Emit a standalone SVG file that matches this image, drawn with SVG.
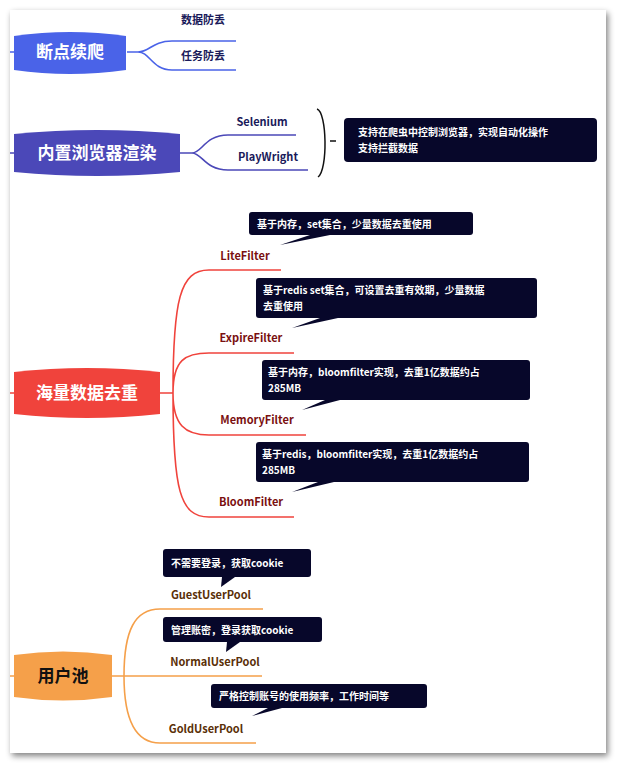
<svg xmlns="http://www.w3.org/2000/svg" width="618" height="765" viewBox="0 0 618 765">
<defs>
<filter id="sh" x="-5%" y="-5%" width="110%" height="110%"><feGaussianBlur in="SourceAlpha" stdDeviation="3"/><feOffset dx="2" dy="3"/><feComponentTransfer><feFuncA type="linear" slope="0.5"/></feComponentTransfer><feMerge><feMergeNode/><feMergeNode in="SourceGraphic"/></feMerge></filter>
</defs>
<style>
text{font-family:"Noto Sans CJK SC","Noto Sans",sans-serif;font-weight:bold}
.lbl{font-size:11px;text-anchor:middle}
.main{font-size:17px;fill:#fff;text-anchor:middle}
.cb{fill:#07072a}
.ct{font-size:10px;fill:#fff}
.b{fill:none;stroke-width:1.6}
</style>
<rect x="0" y="0" width="618" height="765" fill="#fff"/>
<rect x="10" y="10" width="596" height="743" fill="#fff" filter="url(#sh)"/>
<g id="connectors">
<path class="b" stroke="#4a63e8" d="M10 52H14M127 52H138C150 52 152 41 172 41H236M138 52C150 52 152 70 172 70H236"/>
<path class="b" stroke="#4b48b8" d="M10 153H14M180 153H192C202 153 205 135 228 135H296M192 153C202 153 205 170 228 170H308"/>
<path fill="none" stroke="#111" stroke-width="1.5" d="M317 109C327 112 328 170 318 177M330 141H336"/>
<path class="b" stroke="#f0433c" d="M10 393H14M160 393H173M173 393C173 300 180 270 209 270H281M173 393C173 360 185 353 209 353H294M173 393C173 425 185 435 209 435H306M173 393C173 490 180 517 209 517H294"/>
<path class="b" stroke="#f5a04a" d="M10 676H14M112 676H262M124 676C124 630 135 609 160 609H263M124 676C124 720 135 743 160 743H256"/>
</g>
<g id="n1"><path d="M14 36Q70 28 126 36V70Q70 78 14 70Z" fill="#4a63e8"/><text class="main" x="70" y="58">断点续爬</text></g>
<g id="n1a"><text class="lbl" x="203" y="24" fill="#1a1a5a">数据防丢</text></g>
<g id="n1b"><text class="lbl" x="203" y="60" fill="#1a1a5a">任务防丢</text></g>
<g id="n2"><path d="M14 134Q97 126 180 134V172Q97 180 14 172Z" fill="#4b48b8"/><text class="main" x="97" y="159">内置浏览器渲染</text></g>
<g id="n2a"><text class="lbl" x="262" y="126" fill="#1a1a5a">Selenium</text></g>
<g id="n2b"><text class="lbl" x="268" y="161" fill="#1a1a5a">PlayWright</text></g>
<g id="n2c"><rect class="cb" x="344" y="118" width="253" height="44" rx="4"/><text class="ct" x="358" y="136">支持在爬虫中控制浏览器，实现自动化操作</text><text class="ct" x="358" y="152">支持拦截数据</text></g>
<g id="n3"><path d="M14 372Q87 364 160 372V414Q87 422 14 414Z" fill="#f0433c"/><text class="main" x="87" y="399">海量数据去重</text></g>
<g id="n3a"><text class="lbl" x="245" y="260" fill="#7a1010">LiteFilter</text><rect class="cb" x="249" y="212" width="224" height="23" rx="3"/><path class="cb" d="M280 245L310 235H330Z"/><text class="ct" x="257" y="228">基于内存，set集合，少量数据去重使用</text></g>
<g id="n3b"><text class="lbl" x="251" y="342" fill="#7a1010">ExpireFilter</text><rect class="cb" x="256" y="278" width="281" height="40" rx="3"/><path class="cb" d="M292 328L320 318H338Z"/><text class="ct" x="263" y="294">基于redis set集合，可设置去重有效期，少量数据</text><text class="ct" x="263" y="310">去重使用</text></g>
<g id="n3c"><text class="lbl" x="257" y="424" fill="#7a1010">MemoryFilter</text><rect class="cb" x="262" y="360" width="268" height="40" rx="3"/><path class="cb" d="M302 410L325 400H340Z"/><text class="ct" x="268" y="376">基于内存，bloomfilter实现，去重1亿数据约占</text><text class="ct" x="268" y="392">285MB</text></g>
<g id="n3d"><text class="lbl" x="251" y="506" fill="#7a1010">BloomFilter</text><rect class="cb" x="256" y="442" width="273" height="40" rx="3"/><path class="cb" d="M292 492L318 482H334Z"/><text class="ct" x="262" y="458">基于redis，bloomfilter实现，去重1亿数据约占</text><text class="ct" x="262" y="474">285MB</text></g>
<g id="n4"><path d="M14 655Q63 648 112 655V697Q63 704 14 697Z" fill="#f5a04a"/><text class="main" x="63" y="682" fill="#111" style="fill:#111">用户池</text></g>
<g id="n4a"><text class="lbl" x="211" y="599" fill="#5a3008">GuestUserPool</text><rect class="cb" x="163" y="549" width="148" height="28" rx="3"/><path class="cb" d="M221 587L222 577H235Z"/><text class="ct" x="171" y="567">不需要登录，获取cookie</text></g>
<g id="n4b"><text class="lbl" x="215" y="666" fill="#5a3008">NormalUserPool</text><rect class="cb" x="163" y="617" width="159" height="25" rx="3"/><path class="cb" d="M226 652L227 642H240Z"/><text class="ct" x="171" y="634">管理账密，登录获取cookie</text></g>
<g id="n4c"><text class="lbl" x="206" y="733" fill="#5a3008">GoldUserPool</text><rect class="cb" x="211" y="684" width="216" height="24" rx="3"/><path class="cb" d="M252 716L268 708H282Z"/><text class="ct" x="219" y="700">严格控制账号的使用频率，工作时间等</text></g>
</svg>
